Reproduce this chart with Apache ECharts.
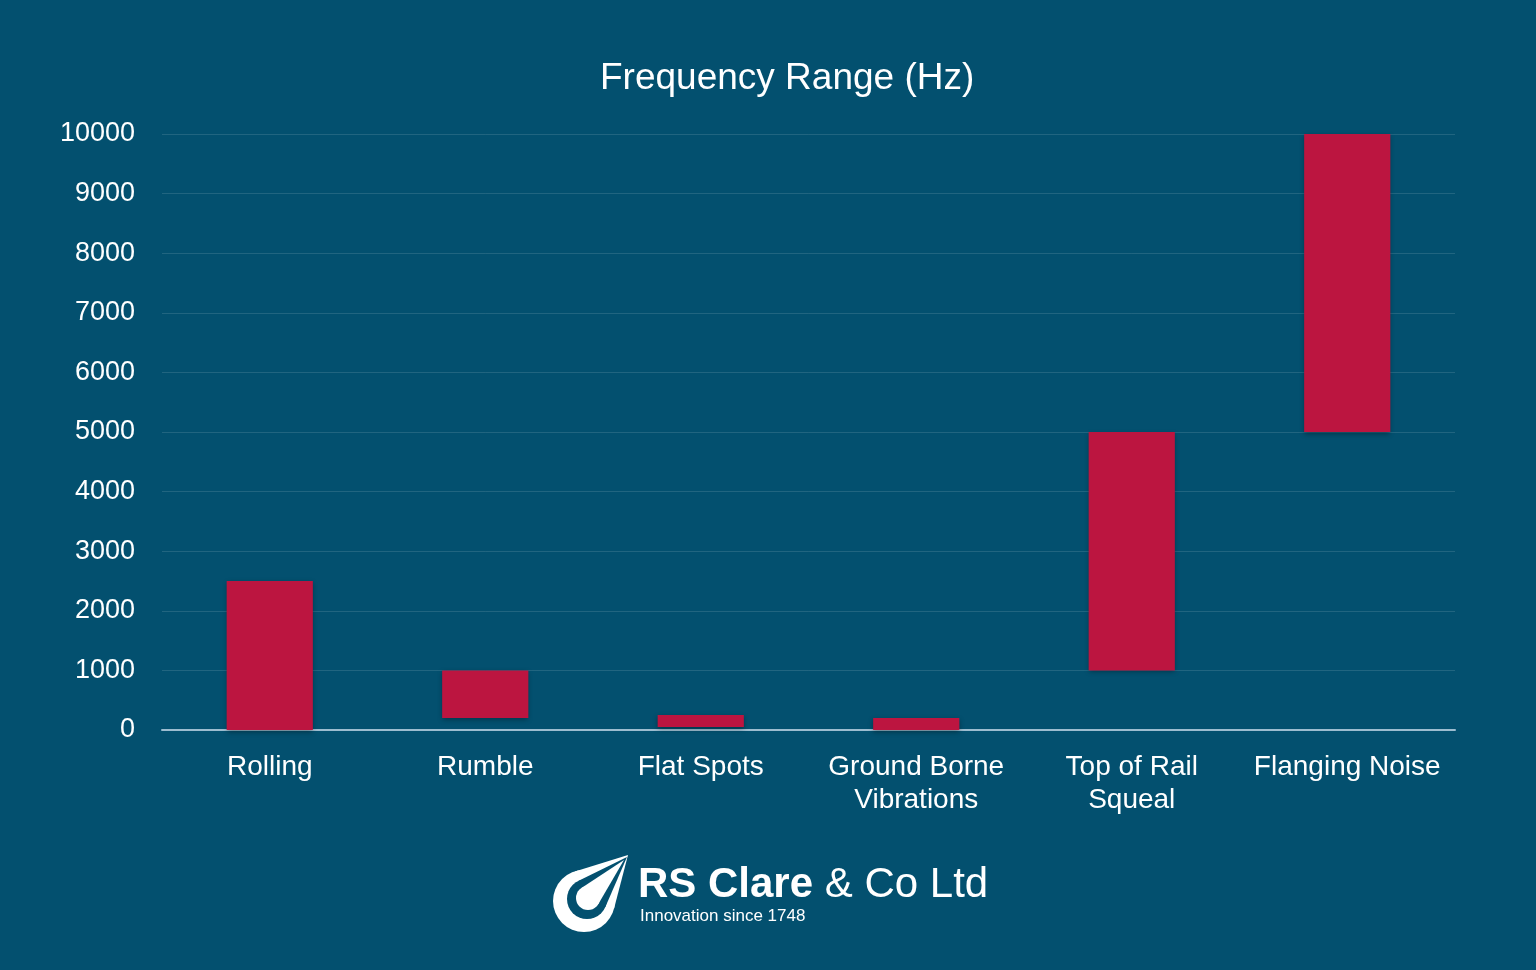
<!DOCTYPE html>
<html>
<head>
<meta charset="utf-8">
<title>Frequency Range (Hz)</title>
<script src="https://cdn.jsdelivr.net/npm/echarts@6/dist/echarts.min.js"></script>
<style>
  html, body { margin: 0; padding: 0; background: #03506f; }
  #chart { width: 1536px; height: 970px; }
</style>
</head>
<body>
<div id="chart"></div>
<script>
// Noise sources and their frequency band (Hz)
const categories = ['Rolling', 'Rumble', 'Flat Spots', 'Ground Borne\nVibrations', 'Top of Rail\nSqueal', 'Flanging Noise'];
const freqLow = [0, 200, 50, 0, 1000, 5000];
const freqHigh = [2500, 1000, 250, 200, 5000, 10000];

const FONT = '"Helvetica Neue", "Liberation Sans", Arial, sans-serif';
const BG = '#03506f';
const chart = echarts.init(document.getElementById('chart'));

// bar height = high - low, stacked on an invisible base
const spans = freqHigh.map((h, i) => h - freqLow[i]);

// teardrop for the logo: circle + triangle towards the tip
function teardrop(cx, cy, r, tx, ty, color) {
    const a = Math.atan2(ty - cy, tx - cx);
    const d = Math.hypot(tx - cx, ty - cy);
    const h = Math.acos(r / d);
    const p1 = [cx + r * Math.cos(a + h), cy + r * Math.sin(a + h)];
    const p2 = [cx + r * Math.cos(a - h), cy + r * Math.sin(a - h)];
    return [
        { type: 'circle', shape: { cx: cx, cy: cy, r: r }, style: { fill: color } },
        { type: 'polygon', shape: { points: [[tx, ty], p1, p2] }, style: { fill: color } }
    ];
}

const option = {
    backgroundColor: BG,
    title: {
        text: 'Frequency Range (Hz)',
        left: 595,
        top: 55,
        textStyle: { color: '#ffffff', fontSize: 37, fontWeight: 'normal', fontFamily: FONT }
    },
    grid: { left: 162, right: 81, top: 134, bottom: 240 },
    xAxis: {
        type: 'category',
        data: categories,
        axisTick: { show: false },
        axisLine: { lineStyle: { color: '#9dbdd0', width: 2 } },
        axisLabel: { color: '#ffffff', fontSize: 28, fontFamily: FONT, margin: 21, lineHeight: 33, interval: 0 }
    },
    yAxis: {
        type: 'value',
        min: 0,
        max: 10000,
        interval: 1000,
        axisLine: { show: false },
        axisTick: { show: false },
        axisLabel: {
            color: '#ffffff', fontSize: 27, fontFamily: FONT, margin: 27,
            formatter: function (v) { return String(v); }
        },
        splitLine: { lineStyle: { color: 'rgba(255,255,255,0.12)', width: 1 } }
    },
    series: [
        {
            name: 'base',
            type: 'bar',
            stack: 'range',
            data: freqLow,
            barWidth: '40%',
            itemStyle: { color: 'rgba(0,0,0,0)' },
            silent: true
        },
        {
            name: 'Frequency Range',
            type: 'bar',
            stack: 'range',
            data: spans,
            barWidth: '40%',
            itemStyle: {
                color: '#bc1540',
                shadowColor: 'rgba(0,0,0,0.35)',
                shadowBlur: 5,
                shadowOffsetY: 2
            }
        }
    ],
    graphic: [].concat(
        teardrop(584, 901, 31, 628, 855, '#ffffff'),
        teardrop(587, 899, 20, 627, 857, BG),
        teardrop(588, 898, 12, 624, 860, '#ffffff'),
        [
            {
                type: 'text',
                left: 638,
                top: 864,
                style: {
                    text: '{b|RS Clare}{r| & Co Ltd}',
                    rich: {
                        b: { fontSize: 42, fontWeight: 'bold', fill: '#ffffff', fontFamily: FONT },
                        r: { fontSize: 42, fontWeight: 'normal', fill: '#ffffff', fontFamily: FONT }
                    }
                }
            },
            {
                type: 'text',
                left: 640,
                top: 908,
                style: { text: 'Innovation since 1748', fontSize: 17, fill: '#ffffff', fontFamily: FONT }
            }
        ]
    )
};

chart.setOption(option);

window.addEventListener('resize', function () {
    chart.resize();
});
</script>
</body>
</html>
